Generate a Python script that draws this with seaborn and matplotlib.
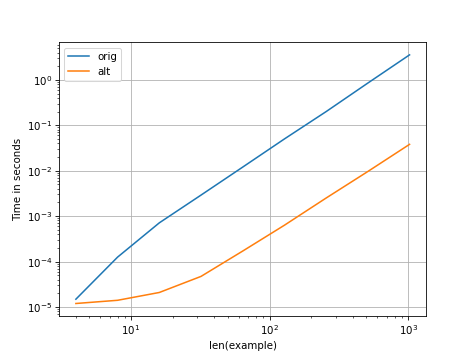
import matplotlib
matplotlib.use("Agg")
import matplotlib.pyplot as plt
import seaborn as sns
import pandas as pd

lengths = [4, 8, 16, 32, 64, 128, 256, 512, 1024]
orig_times = [1.48e-5, 1.25e-4, 7.1e-4, 2.9e-3, 1.2e-2, 5.0e-2, 2.0e-1, 8.5e-1, 3.55]
alt_times = [1.19e-5, 1.4e-5, 2.08e-5, 4.7e-5, 1.7e-4, 6.3e-4, 2.5e-3, 9.6e-3, 3.8e-2]
series_names = ["orig", "alt"]

df = pd.DataFrame({
    "len": lengths * 2,
    "time": orig_times + alt_times,
    "series": [series_names[0]] * len(lengths) + [series_names[1]] * len(lengths),
})

fig, ax = plt.subplots(figsize=(6.4, 4.8), dpi=74)
sns.lineplot(data=df, x="len", y="time", hue="series", palette=["#1f77b4", "#ff7f0e"], ax=ax)
ax.set_xscale("log")
ax.set_yscale("log")
ax.grid(True, which="major")
ax.set_xlabel("len(example)")
ax.set_ylabel("Time in seconds")
ax.legend(title=None, loc="upper left")
fig.savefig("out.png", dpi=74)
